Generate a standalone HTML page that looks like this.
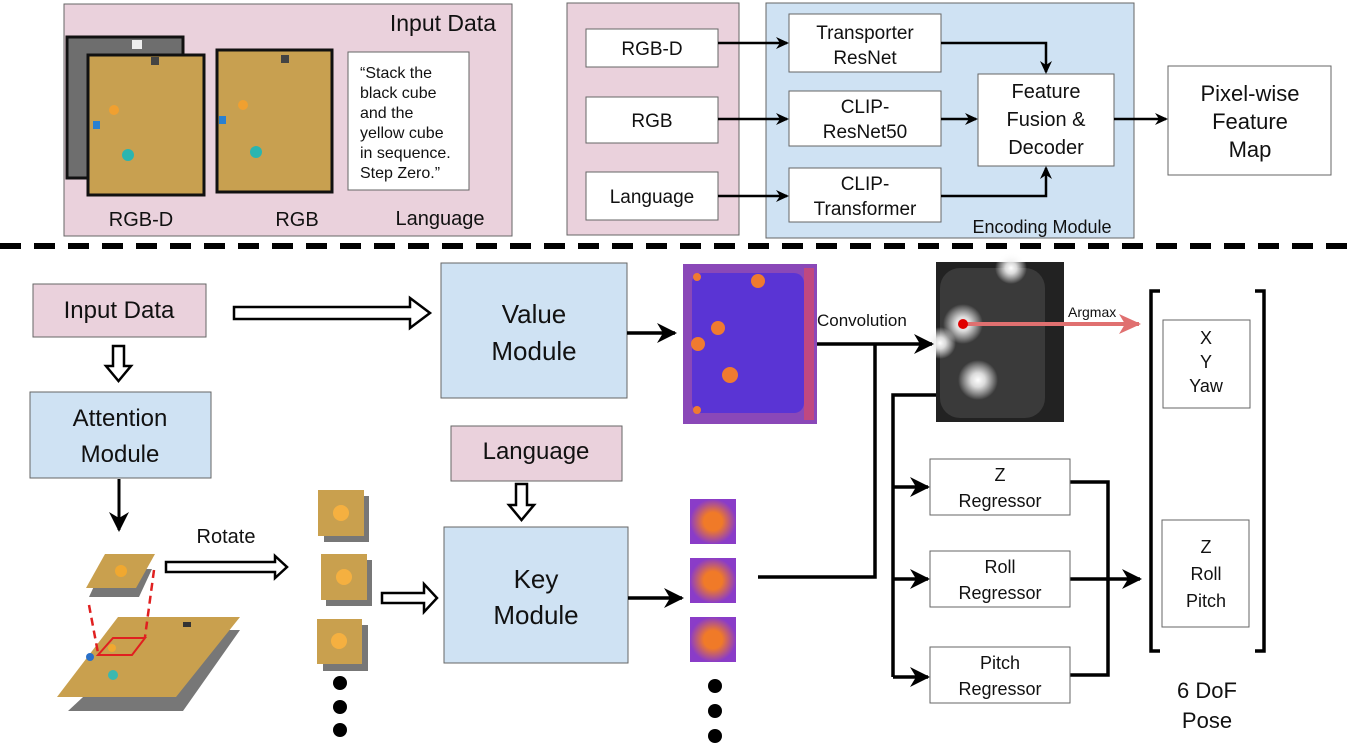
<!DOCTYPE html>
<html><head><meta charset="utf-8"><style>
html,body{margin:0;padding:0;background:#fff}
svg{display:block}
text{font-family:"Liberation Sans",sans-serif;fill:#111}
</style></head><body>
<svg width="1356" height="756" viewBox="0 0 1356 756" xmlns="http://www.w3.org/2000/svg">
<defs>
<marker id="ah" markerWidth="13" markerHeight="12" refX="11" refY="6" orient="auto" markerUnits="userSpaceOnUse"><path d="M0,0 L13,6 L0,12 L4,6 Z" fill="#000"/></marker>
<marker id="ahb" markerWidth="22" markerHeight="20" refX="18" refY="10" orient="auto" markerUnits="userSpaceOnUse"><path d="M0,0 L20,10 L0,20 L6,10 Z" fill="#000"/></marker>
<marker id="ahr" markerWidth="24" markerHeight="20" refX="20" refY="10" orient="auto" markerUnits="userSpaceOnUse"><path d="M0,0 L22,10 L0,20 L6,10 Z" fill="#e07070"/></marker>
<radialGradient id="glow"><stop offset="0" stop-color="#fff"/><stop offset="0.35" stop-color="#eee" stop-opacity="0.9"/><stop offset="1" stop-color="#fff" stop-opacity="0"/></radialGradient>
<radialGradient id="og"><stop offset="0.4" stop-color="#f07a28"/><stop offset="1" stop-color="#8a3cc8"/></radialGradient>
</defs>

<!-- TOP LEFT -->
<rect x="64" y="4" width="448" height="232" fill="#ead1dc" stroke="#666" stroke-width="1"/>
<text x="496" y="31" font-size="23" text-anchor="end">Input Data</text>
<rect x="67" y="37" width="116" height="141" fill="#6e6e6e" stroke="#111" stroke-width="3"/>
<rect x="132" y="40" width="10" height="9" fill="#eee"/>
<rect x="88" y="55" width="116" height="140" fill="#c8a050" stroke="#111" stroke-width="3"/>
<rect x="151" y="57" width="8" height="8" fill="#444"/>
<circle cx="114" cy="110" r="5" fill="#f0a030"/>
<circle cx="128" cy="155" r="6" fill="#2ab5b0"/>
<rect x="93" y="121" width="7" height="8" fill="#2a80d0"/>
<rect x="217" y="50" width="115" height="142" fill="#c8a050" stroke="#111" stroke-width="3"/>
<rect x="281" y="55" width="8" height="8" fill="#444"/>
<circle cx="243" cy="105" r="5" fill="#f0a030"/>
<circle cx="256" cy="152" r="6" fill="#2ab5b0"/>
<rect x="219" y="116" width="7" height="8" fill="#2a80d0"/>
<rect x="348" y="52" width="121" height="138" fill="#fff" stroke="#666" stroke-width="1"/>
<g font-size="16"><text x="360" y="78">“Stack the</text><text x="360" y="98">black cube</text><text x="360" y="118">and the</text><text x="360" y="138">yellow cube</text><text x="360" y="158">in sequence.</text><text x="360" y="178">Step Zero.”</text></g>
<g font-size="20" text-anchor="middle"><text x="141" y="226">RGB-D</text><text x="297" y="226">RGB</text><text x="440" y="225">Language</text></g>

<!-- TOP RIGHT -->
<rect x="567" y="3" width="172" height="232" fill="#ead1dc" stroke="#666"/>
<rect x="766" y="3" width="368" height="235" fill="#cfe2f3" stroke="#666"/>
<g fill="#fff" stroke="#666">
<rect x="586" y="29" width="132" height="38"/><rect x="586" y="97" width="132" height="46"/><rect x="586" y="172" width="132" height="48"/>
<rect x="789" y="14" width="152" height="58"/><rect x="789" y="91" width="152" height="55"/><rect x="789" y="168" width="152" height="54"/>
<rect x="978" y="74" width="136" height="92"/><rect x="1168" y="66" width="163" height="109"/>
</g>
<g font-size="19" text-anchor="middle">
<text x="652" y="55">RGB-D</text><text x="652" y="127">RGB</text><text x="652" y="203">Language</text>
<text x="865" y="39">Transporter</text><text x="865" y="64">ResNet</text>
<text x="865" y="113">CLIP-</text><text x="865" y="138">ResNet50</text>
<text x="865" y="190">CLIP-</text><text x="865" y="215">Transformer</text>
<text x="1046" y="98" font-size="20">Feature</text><text x="1046" y="126" font-size="20">Fusion &amp;</text><text x="1046" y="154" font-size="20">Decoder</text>
<text x="1250" y="101" font-size="22">Pixel-wise</text><text x="1250" y="129" font-size="22">Feature</text><text x="1250" y="157" font-size="22">Map</text>
<text x="1042" y="233" font-size="18">Encoding Module</text>
</g>
<g stroke="#000" stroke-width="2.5" fill="none">
<line x1="718" y1="43" x2="787" y2="43" marker-end="url(#ah)"/>
<line x1="718" y1="119" x2="787" y2="119" marker-end="url(#ah)"/>
<line x1="718" y1="196" x2="787" y2="196" marker-end="url(#ah)"/>
<polyline points="941,43 1046,43 1046,72" marker-end="url(#ah)"/>
<line x1="941" y1="119" x2="976" y2="119" marker-end="url(#ah)"/>
<polyline points="941,196 1046,196 1046,168" marker-end="url(#ah)"/>
<line x1="1114" y1="119" x2="1166" y2="119" marker-end="url(#ah)"/>
</g>

<!-- dashed divider -->
<line x1="0" y1="246" x2="1356" y2="246" stroke="#000" stroke-width="6" stroke-dasharray="21,13"/>

<!-- BOTTOM -->
<rect x="33" y="284" width="173" height="53" fill="#ead1dc" stroke="#666"/>
<text x="119" y="318" font-size="24" text-anchor="middle">Input Data</text>
<rect x="30" y="392" width="181" height="86" fill="#cfe2f3" stroke="#666"/>
<text x="120" y="426" font-size="24" text-anchor="middle">Attention</text><text x="120" y="462" font-size="24" text-anchor="middle">Module</text>
<rect x="441" y="263" width="186" height="135" fill="#cfe2f3" stroke="#666"/>
<text x="534" y="323" font-size="26" text-anchor="middle">Value</text><text x="534" y="360" font-size="26" text-anchor="middle">Module</text>
<rect x="451" y="426" width="171" height="55" fill="#ead1dc" stroke="#666"/>
<text x="536" y="459" font-size="24" text-anchor="middle">Language</text>
<rect x="444" y="527" width="184" height="136" fill="#cfe2f3" stroke="#666"/>
<text x="536" y="588" font-size="26" text-anchor="middle">Key</text><text x="536" y="624" font-size="26" text-anchor="middle">Module</text>

<!-- hollow arrows -->
<g fill="#fff" stroke="#000" stroke-width="2.5">
<path d="M234,307 H410 V298 L430,313 L410,328 V319 H234 Z"/>
<path d="M113,346 H124 V366 H131 L118.5,381 L106,366 H113 Z"/>
<path d="M516,484 H527 V505 H534 L521.5,520 L509,505 H516 Z"/>
<path d="M166,562 H275 V556 L287,567 L275,578 V572 H166 Z"/>
<path d="M382,593 H424 V584 L437,598 L424,612 V603 H382 Z"/>
</g>
<text x="226" y="543" font-size="20" text-anchor="middle">Rotate</text>

<line x1="119" y1="479" x2="119" y2="530" stroke="#000" stroke-width="3" marker-end="url(#ahb)"/>

<!-- rotated crops -->
<polygon points="89,597 139,597 152,569 102,569" fill="#777"/>
<polygon points="86,588 136,588 155,554 105,554" fill="#c9a04e"/>
<circle cx="121" cy="571" r="6" fill="#f0a830"/>
<polygon points="68,711 183,711 240,630 155,630" fill="#777"/>
<polygon points="57,697 176,697 240,617 118,617" fill="#c9a04e"/>
<polygon points="98,655 132,655 145,638 113,638" fill="none" stroke="#e02020" stroke-width="2"/>
<circle cx="112" cy="648" r="4" fill="#f0a830"/>
<circle cx="113" cy="675" r="5" fill="#3ab8b0"/>
<circle cx="90" cy="657" r="4" fill="#2a70c8"/>
<rect x="183" y="622" width="8" height="5" fill="#333"/>
<g stroke="#e02020" stroke-width="2.5" stroke-dasharray="8,5"><line x1="89" y1="605" x2="98" y2="653"/><line x1="154" y1="570" x2="145" y2="637"/></g>

<!-- patches -->
<g>
<rect x="324" y="496" width="45" height="46" fill="#777"/><rect x="318" y="490" width="46" height="46" fill="#c9a04e"/><circle cx="341" cy="513" r="8" fill="#f5b040"/>
<rect x="326" y="560" width="46" height="46" fill="#777"/><rect x="321" y="554" width="46" height="46" fill="#c9a04e"/><circle cx="344" cy="577" r="8" fill="#f5b040"/>
<rect x="323" y="625" width="45" height="46" fill="#777"/><rect x="317" y="619" width="45" height="45" fill="#c9a04e"/><circle cx="339" cy="641" r="8" fill="#f5b040"/>
</g>
<g fill="#000"><circle cx="340" cy="683" r="7"/><circle cx="340" cy="707" r="7"/><circle cx="340" cy="730" r="7"/>
<circle cx="715" cy="686" r="7"/><circle cx="715" cy="711" r="7"/><circle cx="715" cy="736" r="7"/></g>

<rect x="690" y="499" width="46" height="45" fill="url(#og)"/>
<rect x="690" y="558" width="46" height="45" fill="url(#og)"/>
<rect x="690" y="617" width="46" height="45" fill="url(#og)"/>

<!-- value heatmap -->
<rect x="683" y="264" width="134" height="160" fill="#8a48b8"/>
<rect x="692" y="273" width="112" height="140" rx="10" fill="#5a34d4"/>
<rect x="804" y="268" width="10" height="152" fill="#c04880"/>
<g fill="#f07a30"><circle cx="758" cy="281" r="7"/><circle cx="718" cy="328" r="7"/><circle cx="698" cy="344" r="7"/><circle cx="730" cy="375" r="8"/><circle cx="697" cy="410" r="4"/><circle cx="697" cy="277" r="4"/></g>

<!-- gray heatmap -->
<rect x="936" y="262" width="128" height="160" fill="#222"/>
<rect x="940" y="268" width="105" height="150" rx="20" fill="#3a3a3a"/>
<circle cx="1011" cy="268" r="16" fill="url(#glow)"/>
<circle cx="963" cy="324" r="20" fill="url(#glow)"/>
<circle cx="940" cy="343" r="16" fill="url(#glow)"/>
<circle cx="978" cy="380" r="20" fill="url(#glow)"/>
<line x1="963" y1="324" x2="1139" y2="324" stroke="#e07070" stroke-width="4" marker-end="url(#ahr)"/>
<circle cx="963" cy="324" r="5" fill="#e00000"/>
<text x="1068" y="317" font-size="14">Argmax</text>
<text x="817" y="326" font-size="17">Convolution</text>

<!-- connectors -->
<g stroke="#000" stroke-width="3.5" fill="none">
<line x1="627" y1="333" x2="675" y2="333" marker-end="url(#ahb)"/>
<line x1="628" y1="598" x2="682" y2="598" marker-end="url(#ahb)"/>
<line x1="817" y1="344" x2="932" y2="344" marker-end="url(#ahb)"/>
<polyline points="758,577 875,577 875,344"/>
<polyline points="936,395 893,395 893,677"/>
<line x1="893" y1="487" x2="928" y2="487" marker-end="url(#ahb)"/>
<line x1="893" y1="579" x2="928" y2="579" marker-end="url(#ahb)"/>
<line x1="893" y1="677" x2="928" y2="677" marker-end="url(#ahb)"/>
<polyline points="1070,482 1108,482 1108,675 1070,675"/>
<line x1="1070" y1="579" x2="1140" y2="579" marker-end="url(#ahb)"/>
<polyline points="1160,291 1151,291 1151,651 1160,651"/>
<polyline points="1255,291 1264,291 1264,651 1255,651"/>
</g>

<g fill="#fff" stroke="#666">
<rect x="930" y="459" width="140" height="56"/><rect x="930" y="551" width="140" height="56"/><rect x="930" y="647" width="140" height="56"/>
<rect x="1163" y="320" width="87" height="88"/><rect x="1162" y="520" width="87" height="107"/>
</g>
<g font-size="18" text-anchor="middle">
<text x="1000" y="481">Z</text><text x="1000" y="507">Regressor</text>
<text x="1000" y="573">Roll</text><text x="1000" y="599">Regressor</text>
<text x="1000" y="669">Pitch</text><text x="1000" y="695">Regressor</text>
<text x="1206" y="344">X</text><text x="1206" y="368">Y</text><text x="1206" y="392">Yaw</text>
<text x="1206" y="553">Z</text><text x="1206" y="580">Roll</text><text x="1206" y="607">Pitch</text>
<text x="1207" y="698" font-size="22">6 DoF</text><text x="1207" y="728" font-size="22">Pose</text>
</g>
</svg>
</body></html>
